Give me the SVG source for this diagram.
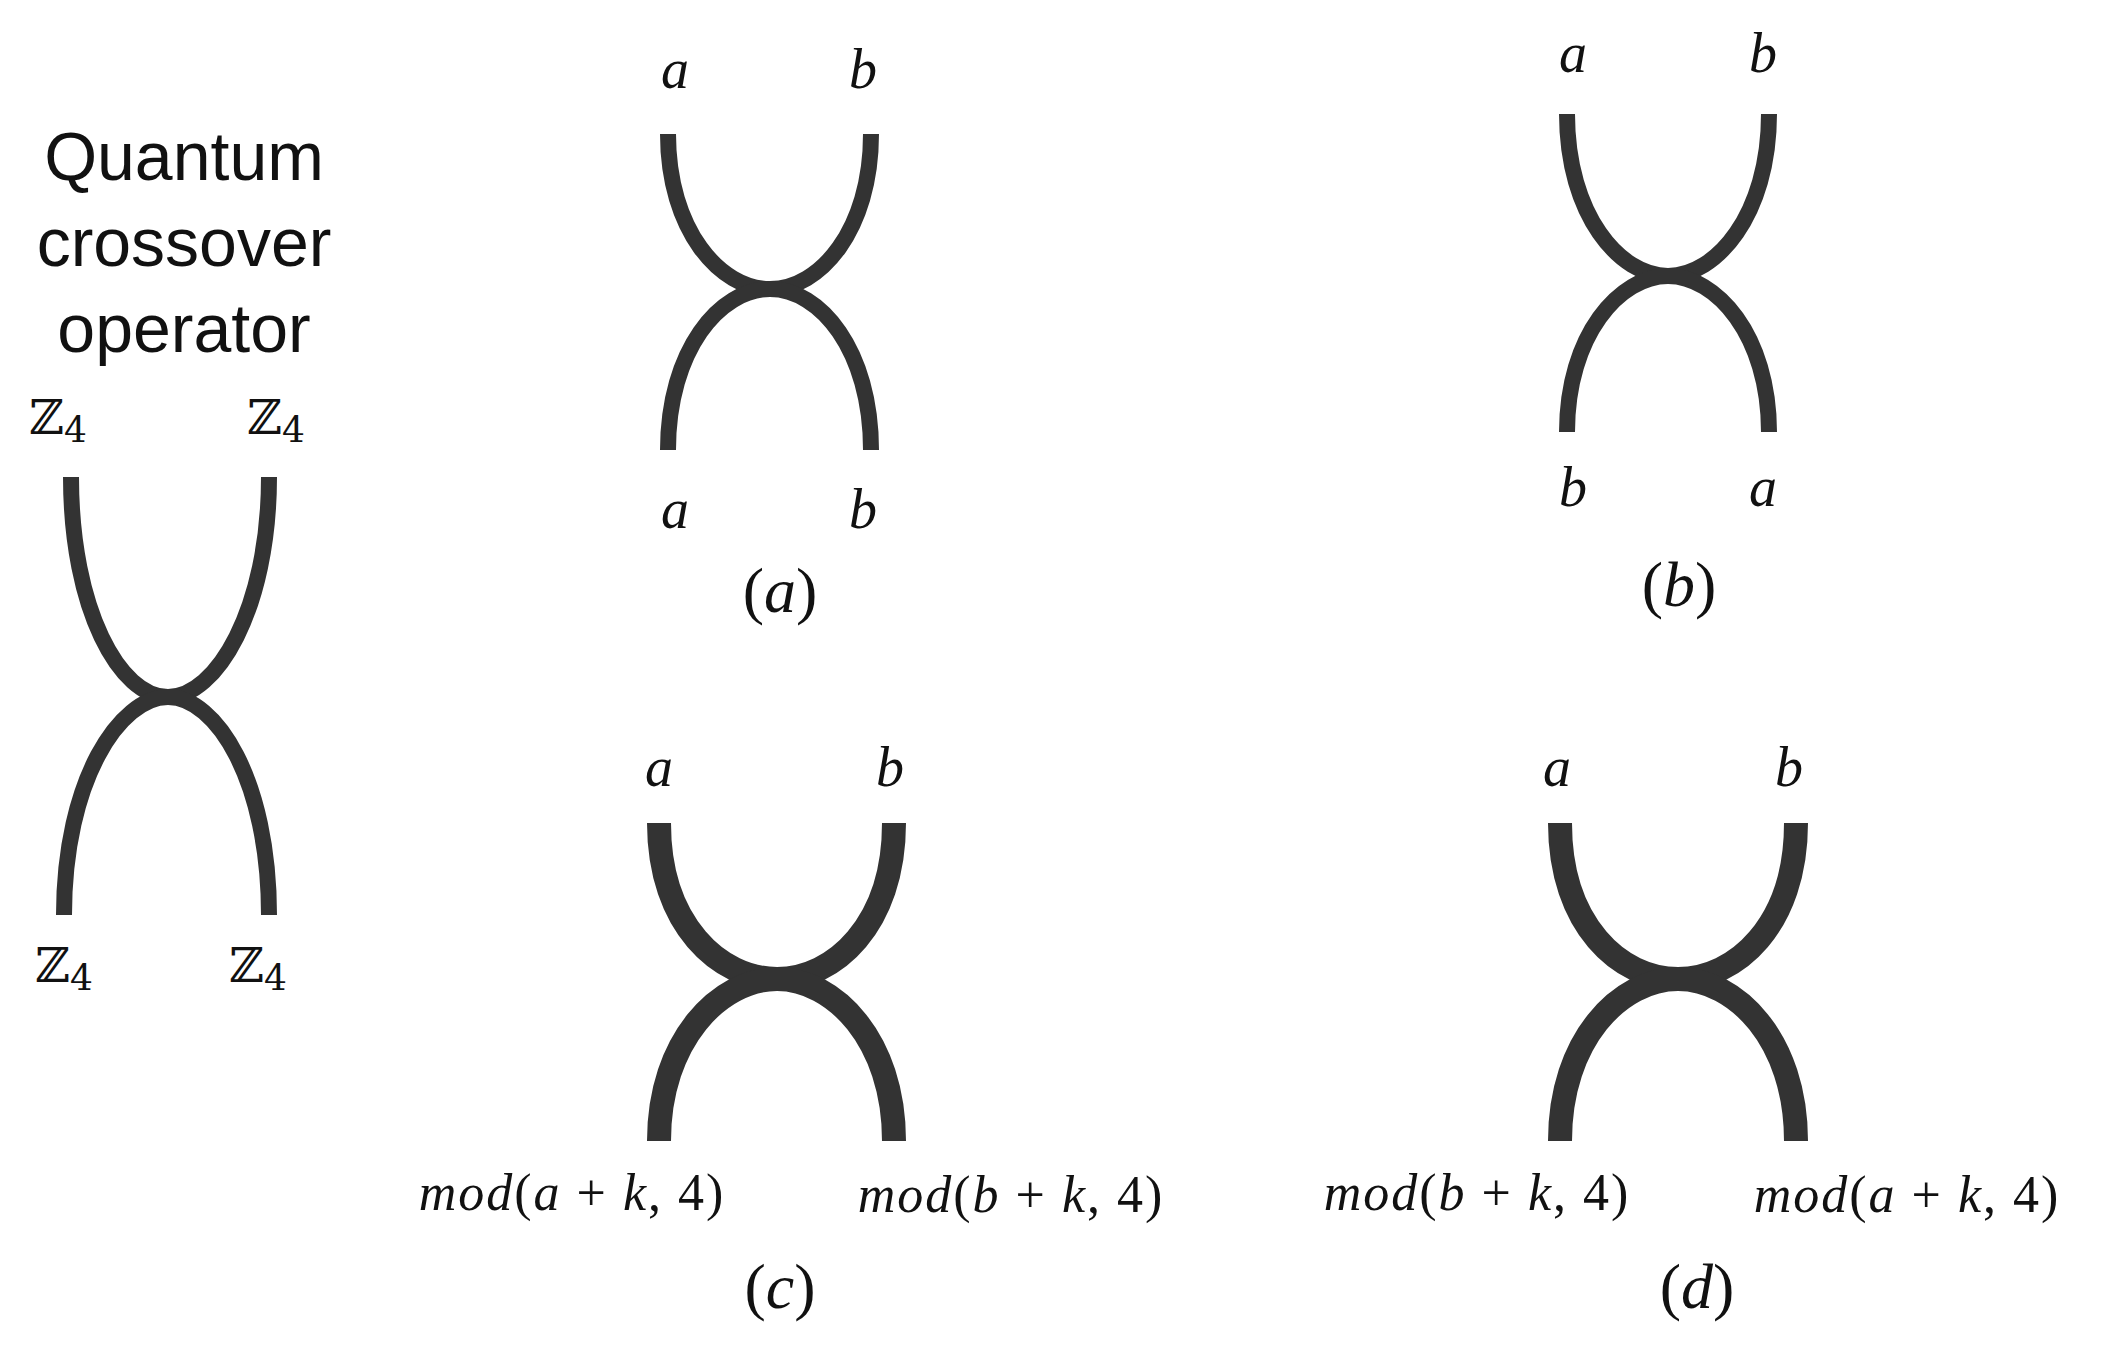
<svg xmlns="http://www.w3.org/2000/svg" width="2109" height="1358" viewBox="0 0 2109 1358">
<style>
.c{fill:none;stroke:#333;stroke-linecap:butt}
.t{stroke-width:16}.k{stroke-width:24}
.m{font-family:"Liberation Serif","DejaVu Serif",serif;font-style:italic;font-size:56px;fill:#111;text-anchor:middle}
.s{font-size:52px;letter-spacing:2px}
.p{font-family:"Liberation Serif","DejaVu Serif",serif;font-size:64px;fill:#111;text-anchor:middle}
.z{font-family:"DejaVu Serif",serif;font-size:48px;fill:#111;text-anchor:middle}
.q{font-family:"Liberation Sans",Arial,sans-serif;font-size:68px;fill:#111;text-anchor:middle}
</style>
<rect width="2109" height="1358" fill="#fff"/>
<g id="title"><text class="q" x="184" y="180">Quantum</text><text class="q" x="184" y="266">crossover</text><text class="q" x="184" y="352">operator</text></g>
<g id="connectors">
<path class="c t" d="M71,477 C71,610 120,697 168,697 C216,697 269,610 269,477"/>
<path class="c t" d="M64,915 C64,780 120,697 168,697 C216,697 269,780 269,915"/>
<path class="c t" d="M668,134 C668,230 720,289 770,289 C820,289 871,230 871,134"/>
<path class="c t" d="M668,450 C668,350 720,289 770,289 C820,289 871,350 871,450"/>
<path class="c t" d="M1567,114 C1567,215 1620,276 1668,276 C1716,276 1769,215 1769,114"/>
<path class="c t" d="M1567,432 C1567,335 1620,276 1668,276 C1716,276 1769,335 1769,432"/>
<path class="c k" d="M659,823 C659,925 720,979 777,979 C834,979 894,925 894,823"/>
<path class="c k" d="M659,1141 C659,1040 720,979 777,979 C834,979 894,1040 894,1141"/>
<path class="c k" d="M1560,823 C1560,925 1620,979 1678,979 C1736,979 1796,925 1796,823"/>
<path class="c k" d="M1560,1141 C1560,1040 1620,979 1678,979 C1736,979 1796,1040 1796,1141"/>
</g>
<g id="left">
<text class="z" x="58" y="434">ℤ<tspan font-size="36" dy="8">4</tspan></text>
<text class="z" x="276" y="434">ℤ<tspan font-size="36" dy="8">4</tspan></text>
<text class="z" x="64" y="982">ℤ<tspan font-size="36" dy="8">4</tspan></text>
<text class="z" x="258" y="982">ℤ<tspan font-size="36" dy="8">4</tspan></text>
</g>
<g id="a"><text class="m" x="675" y="88">a</text><text class="m" x="863" y="88">b</text><text class="m" x="675" y="528">a</text><text class="m" x="863" y="528">b</text><text class="p" x="780" y="612">(<tspan font-style="italic">a</tspan>)</text></g>
<g id="b"><text class="m" x="1573" y="72">a</text><text class="m" x="1763" y="72">b</text><text class="m" x="1573" y="506">b</text><text class="m" x="1763" y="506">a</text><text class="p" x="1679" y="606">(<tspan font-style="italic">b</tspan>)</text></g>
<g id="c"><text class="m" x="659" y="786">a</text><text class="m" x="890" y="786">b</text><text class="m s" x="572" y="1210">mod<tspan font-style="normal">(</tspan>a <tspan font-style="normal">+</tspan> k<tspan font-style="normal">, 4)</tspan></text><text class="m s" x="1011" y="1212">mod<tspan font-style="normal">(</tspan>b <tspan font-style="normal">+</tspan> k<tspan font-style="normal">, 4)</tspan></text><text class="p" x="780" y="1308">(<tspan font-style="italic">c</tspan>)</text></g>
<g id="d"><text class="m" x="1557" y="786">a</text><text class="m" x="1789" y="786">b</text><text class="m s" x="1477" y="1210">mod<tspan font-style="normal">(</tspan>b <tspan font-style="normal">+</tspan> k<tspan font-style="normal">, 4)</tspan></text><text class="m s" x="1907" y="1212">mod<tspan font-style="normal">(</tspan>a <tspan font-style="normal">+</tspan> k<tspan font-style="normal">, 4)</tspan></text><text class="p" x="1697" y="1308">(<tspan font-style="italic">d</tspan>)</text></g>
</svg>
